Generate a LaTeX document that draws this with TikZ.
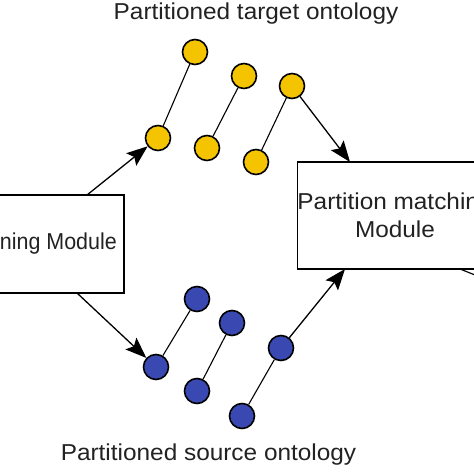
\documentclass[tikz,border=0pt]{standalone}
\usepackage{fontspec}
\setmainfont[FakeStretch=1.06]{Liberation Sans}
\usetikzlibrary{arrows.meta}
\definecolor{ycol}{HTML}{F5C400}
\definecolor{bcol}{HTML}{3A49B2}
\definecolor{tcol}{HTML}{222222}
\begin{document}
\begin{tikzpicture}[x=1pt,y=-1pt,
  boxst/.style={draw=black,line width=1.8pt,rectangle,inner sep=0pt,fill=white},
  dot/.style={circle,draw=black,line width=1.6pt,minimum size=25pt,inner sep=0pt},
  ydot/.style={dot,fill=ycol},
  bdot/.style={dot,fill=bcol},
  link/.style={draw=black,line width=1.1pt},
  arr/.style={draw=black,line width=1.3pt,-{Stealth[length=21pt,width=16pt,inset=4pt]}},
  lbl/.style={font=\fontsize{23}{28}\selectfont,text=tcol,inner sep=0pt}]
\useasboundingbox (0,0) rectangle (474,474);
\fill[white] (0,0) rectangle (474,474);
% boxes
\node[boxst,minimum width=211pt,minimum height=98pt] (lbox) at (18.5,244) {};
\node[lbl,anchor=east] (ltext) at (117,244) {\scalebox{0.88}[1]{ning Module}};
\node[boxst,minimum width=188pt,minimum height=107pt,align=center,lbl] (rbox) at (395,215.5) {Partition matching\\Module};
% yellow circles
\node[ydot] (y1t) at (195,52) {};
\node[ydot] (y1b) at (158,138) {};
\node[ydot] (y2t) at (244,76) {};
\node[ydot] (y2b) at (207,148) {};
\node[ydot] (y3t) at (292,86) {};
\node[ydot] (y3b) at (256,162) {};
% blue circles
\node[bdot] (b1t) at (197,299) {};
\node[bdot] (b1b) at (156,367) {};
\node[bdot] (b2t) at (232,323) {};
\node[bdot] (b2b) at (197,391) {};
\node[bdot] (b3t) at (281,348) {};
\node[bdot] (b3b) at (242,416) {};
% links
\draw[link] (y1b) -- (y1t);
\draw[link] (y2b) -- (y2t);
\draw[link] (y3b) -- (y3t);
\draw[link] (b1b) -- (b1t);
\draw[link] (b2b) -- (b2t);
\draw[link] (b3b) -- (b3t);
% connectors
\coordinate (l1) at (87,195);
\coordinate (l2) at (77,293);
\coordinate (r1) at (350,162);
\coordinate (r2) at (345,269);
\coordinate (r3) at (460,269);
\coordinate (out) at (490,281);
\draw[arr] (l1) -- (y1b);
\draw[arr] (l2) -- (b1b);
\draw[arr] (y3t) -- (r1);
\draw[arr] (b3t) -- (r2);
\draw[link,line width=1.2pt] (r3) -- (out);
% titles
\node[lbl,anchor=base] (ttitle) at (256,19.5) {Partitioned target ontology};
\node[lbl,anchor=base] (stitle) at (208.5,460) {Partitioned source ontology};
\end{tikzpicture}
\end{document}
